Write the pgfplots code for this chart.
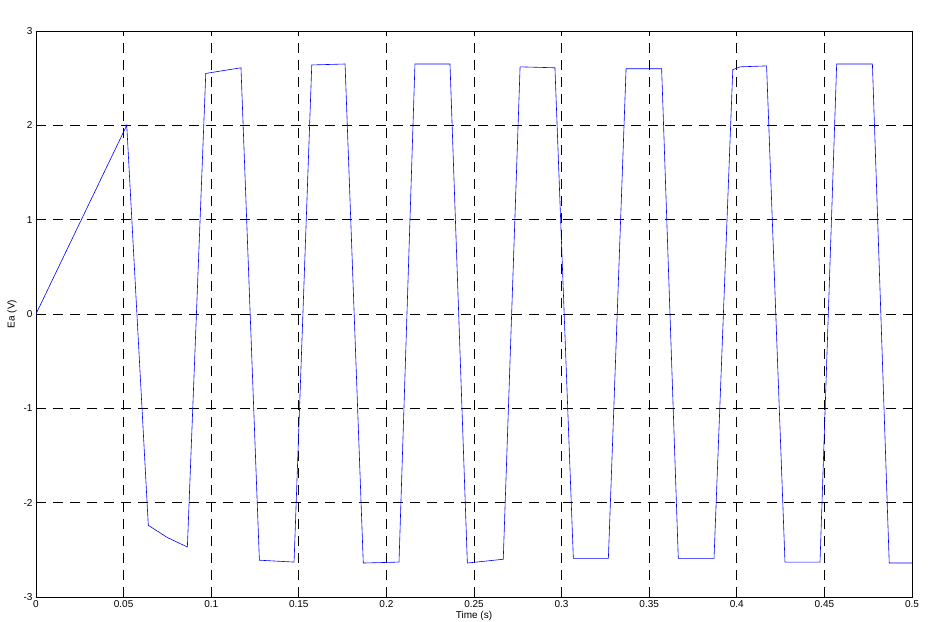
\documentclass[border=0pt]{standalone}
\usepackage{fontspec}
\setmainfont{Liberation Sans}
\usepackage{pgfplots}
\pgfplotsset{compat=1.18}

\begin{document}
\begin{tikzpicture}
\begin{axis}[
    name=ax,
    scale only axis,
    width=876pt, height=566pt,
    xmin=0, xmax=0.5, ymin=-3, ymax=3,
    xtick={0,0.05,0.1,0.15,0.2,0.25,0.3,0.35,0.4,0.45,0.5},
    xticklabels={0,0.05,0.1,0.15,0.2,0.25,0.3,0.35,0.4,0.45,0.5},
    ytick={-3,-2,-1,0,1,2,3},
    yticklabels={-3,-2,-1,0,1,2,3},
    tick align=inside,
    major tick length=5pt,
    tick style={black, line width=0.7pt},
    axis line style={line width=0.8pt},
    grid=major,
    major grid style={black, line width=0.7pt, dash pattern=on 10pt off 7pt},
    tick label style={font=\fontsize{10}{12}\selectfont},
    label style={font=\fontsize{10}{12}\selectfont},
    xlabel={Time (s)},
    ylabel={Ea (V)},
    xlabel style={at={(axis description cs:0.5,-0.0336)}, anchor=center},
    ylabel style={at={(axis description cs:-0.0274,0.5)}, anchor=center},
]
% Ea
\addplot[blue, line width=0.6pt] coordinates {
    (0,0)
    (0.0518,2.0)
    (0.0641,-2.24)
    (0.075,-2.37)
    (0.0864,-2.47)
    (0.0969,2.55)
    (0.117,2.61)
    (0.1275,-2.61)
    (0.1473,-2.63)
    (0.1574,2.64)
    (0.1764,2.65)
    (0.1868,-2.64)
    (0.2072,-2.63)
    (0.2163,2.65)
    (0.2363,2.65)
    (0.2462,-2.64)
    (0.2667,-2.60)
    (0.2763,2.62)
    (0.2962,2.61)
    (0.3067,-2.59)
    (0.3267,-2.59)
    (0.3368,2.60)
    (0.3571,2.60)
    (0.3666,-2.59)
    (0.387,-2.59)
    (0.3977,2.59)
    (0.402,2.62)
    (0.417,2.63)
    (0.4275,-2.63)
    (0.4475,-2.63)
    (0.457,2.65)
    (0.4774,2.65)
    (0.487,-2.64)
    (0.5,-2.64)
};
\end{axis}
\pgfresetboundingbox
\path[use as bounding box] ([xshift=-36pt,yshift=-25pt]ax.south west) rectangle ([xshift=23pt,yshift=31pt]ax.north east);
\end{tikzpicture}
\end{document}
